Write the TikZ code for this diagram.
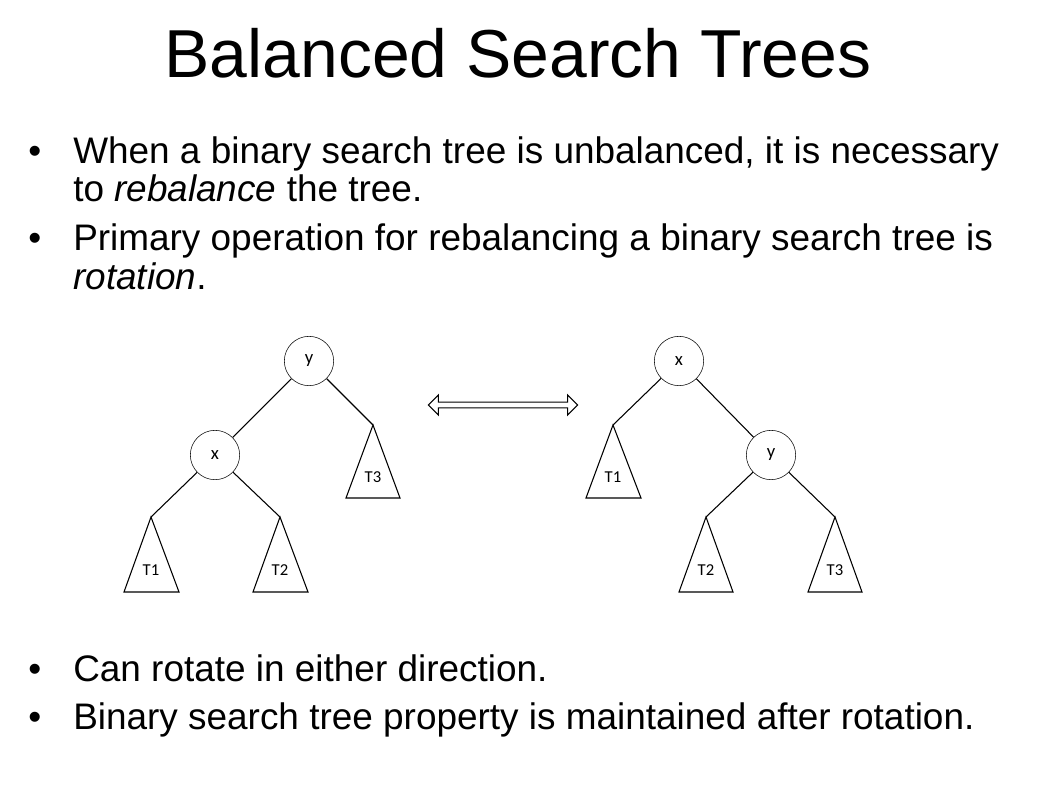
\documentclass[tikz,border=0pt]{standalone}
\usepackage{fontspec}
\setmainfont{Liberation Sans}
\newfontfamily\smallf{Carlito}
\usetikzlibrary{shapes.arrows}
\begin{document}
\begin{tikzpicture}[x=0.75pt,y=-0.75pt,
  circ/.style={draw,circle,minimum size=37pt,inner sep=0pt,font=\smallf\fontsize{14}{14}\selectfont},
  body/.style={anchor=base west,inner sep=0pt,font=\fontsize{27.7}{27.7}\selectfont},
  bul/.style={anchor=base west,inner sep=0pt,font=\fontsize{27.7}{27.7}\selectfont},
  tri/.style={draw,line width=0.8pt},
  tlab/.style={font=\smallf\fontsize{12.5}{12.5}\selectfont,anchor=base},
  edge/.style={line width=0.8pt}]
\useasboundingbox (0,0) rectangle (1042,796);
\node[anchor=base,inner sep=0pt,font=\fontsize{50.9}{50.9}\selectfont] (title) at (518,77) {Balanced Search Trees};
\node[bul] (b1) at (28,163) {•};
\node[body] (t1a) at (73,163) {When a binary search tree is unbalanced, it is necessary};
\node[body] (t1b) at (73,201) {to \textit{rebalance} the tree.};
\node[bul] (b2) at (28,250) {•};
\node[body] (t2a) at (73,250) {Primary operation for rebalancing a binary search tree is};
\node[body] (t2b) at (73,289) {\textit{rotation}.};
\node[bul] (b3) at (28,681) {•};
\node[body] (t3) at (73,681) {Can rotate in either direction.};
\node[bul] (b4) at (28,729) {•};
\node[body] (t4) at (73,729) {Binary search tree property is maintained after rotation.};
% left tree
\node[circ] (ly) at (309,361) {y};
\node[circ] (lx) at (215,455) {x};
\coordinate (lt3) at (373,425);
\coordinate (lt1) at (151,517);
\coordinate (lt2) at (280,517);
\draw[edge] (ly) -- (lx);
\draw[edge] (ly) -- (lt3);
\draw[edge] (lx) -- (lt1);
\draw[edge] (lx) -- (lt2);
\draw[tri] (lt3) -- (346,498) -- (400,498) -- cycle;
\draw[tri] (lt1) -- (124,592) -- (179,592) -- cycle;
\draw[tri] (lt2) -- (253,592) -- (308,592) -- cycle;
\node[tlab] (llt3) at (373,482) {T3};
\node[tlab] (llt1) at (151,575) {T1};
\node[tlab] (llt2) at (280,575) {T2};
% arrow
\node[double arrow,draw,line width=0.8pt,minimum width=15pt,double arrow head extend=4pt,minimum height=112pt,inner sep=1.2pt] (arr) at (503,405) {};
% right tree
\node[circ] (rx) at (679,361) {x};
\node[circ] (ry) at (771,455) {y};
\coordinate (rt1) at (613,425);
\coordinate (rt2) at (706,517);
\coordinate (rt3) at (835,517);
\draw[edge] (rx) -- (ry);
\draw[edge] (rx) -- (rt1);
\draw[edge] (ry) -- (rt2);
\draw[edge] (ry) -- (rt3);
\draw[tri] (rt1) -- (586,498) -- (641,498) -- cycle;
\draw[tri] (rt2) -- (679,592) -- (733,592) -- cycle;
\draw[tri] (rt3) -- (808,592) -- (862,592) -- cycle;
\node[tlab] (lrt1) at (613,482) {T1};
\node[tlab] (lrt2) at (706,575) {T2};
\node[tlab] (lrt3) at (835,575) {T3};
\end{tikzpicture}
\end{document}
